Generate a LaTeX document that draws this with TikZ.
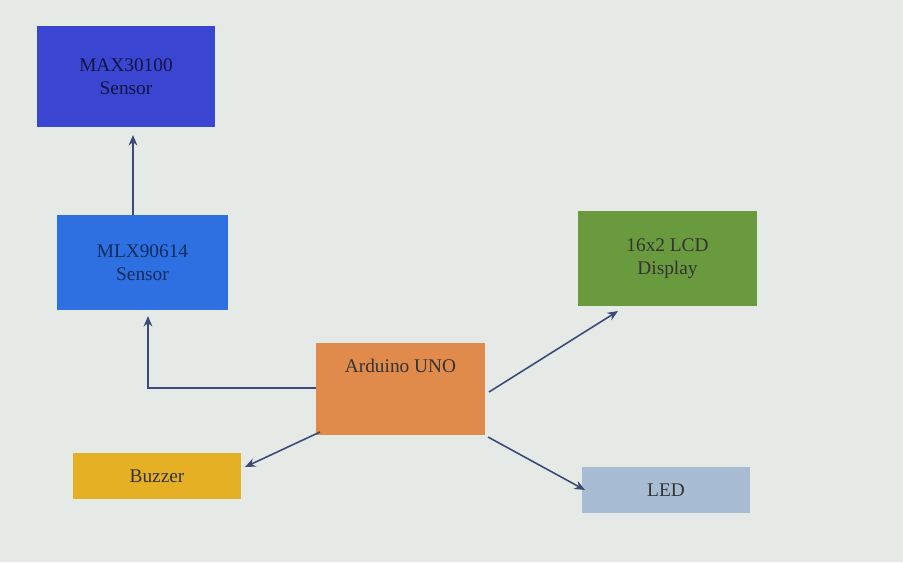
\documentclass[tikz,border=0pt]{standalone}
\usepackage{fontspec}
\setmainfont{Liberation Serif}
\usetikzlibrary{arrows.meta}
\definecolor{bg}{HTML}{E6EAE6}
\definecolor{maxc}{HTML}{3A46D2}
\definecolor{mlxc}{HTML}{2E6FE2}
\definecolor{lcdc}{HTML}{6A9A3E}
\definecolor{arc}{HTML}{E08A4C}
\definecolor{buzc}{HTML}{E6B024}
\definecolor{ledc}{HTML}{A8BCD4}
\definecolor{linec}{HTML}{3C4A78}
\begin{document}
\begin{tikzpicture}[x=0.02cm,y=-0.02cm,
  blk/.style={inner sep=0pt,align=center,font=\fontsize{11}{13}\selectfont,text=black!80},
  con/.style={draw=linec,line width=0.9pt,-{Stealth[length=6pt,width=5pt]}}]
\fill[bg] (0,0) rectangle (903,562);
\useasboundingbox (0,0) rectangle (903,562);
\node[blk,fill=maxc,minimum width=178*0.02cm,minimum height=101*0.02cm,text=black!70!maxc] (max) at (126,76.5) {MAX30100\\Sensor};
\node[blk,fill=mlxc,minimum width=171*0.02cm,minimum height=95*0.02cm,text=black!60!mlxc] (mlx) at (142.5,262.5) {MLX90614\\Sensor};
\node[blk,fill=lcdc,minimum width=179*0.02cm,minimum height=95*0.02cm] (lcd) at (667.5,258.5) {16x2 LCD\\Display};
\node[blk,fill=arc,minimum width=169*0.02cm,minimum height=92*0.02cm] (ard) at (400.5,389) {};
\node[blk] at (400.5,366) {Arduino UNO};
\node[blk,fill=buzc,minimum width=168*0.02cm,minimum height=46*0.02cm] (buz) at (157,476) {Buzzer};
\node[blk,fill=ledc,minimum width=168*0.02cm,minimum height=46*0.02cm] (led) at (666,490) {LED};
\draw[con] (mlx.north -| 133,0) -- (133,135);
\draw[con] (ard.west |- 0,388) -- (148,388) -- (148,316);
\draw[con] (489,392) -- (618,311);
\draw[con] (320,432) -- (245,467);
\draw[con] (488,437) -- (585,490);
\end{tikzpicture}
\end{document}
